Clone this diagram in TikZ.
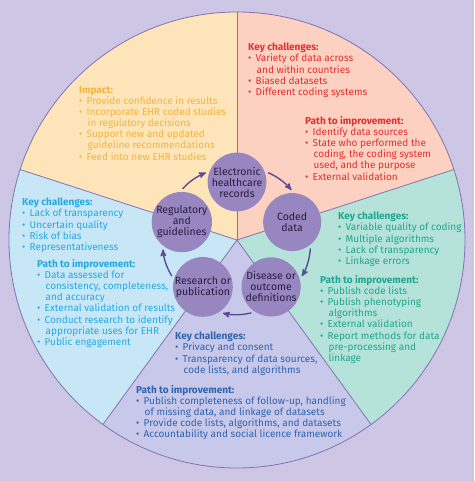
\documentclass[tikz,border=0pt]{standalone}
\usepackage{fontspec}
\setmainfont{Fira Sans}
\usepackage{tikz}
\usetikzlibrary{arrows}
\usepackage{xcolor}
\definecolor{wheel-bg}{HTML}{cdc6e4}
\definecolor{wheel-line}{HTML}{8373b2}
\definecolor{wheel-hub}{HTML}{9886c0}
\definecolor{wheel-hubtext}{HTML}{261e40}
\definecolor{wheel-arrow}{HTML}{5c4a92}
\definecolor{sector-yellow}{HTML}{fee5b9}
\definecolor{sector-peach}{HTML}{fcd1c1}
\definecolor{sector-teal}{HTML}{b5e3da}
\definecolor{sector-blue}{HTML}{c7e7f7}
\definecolor{sector-lavender}{HTML}{c8c9ea}
\definecolor{text-yellow}{HTML}{f3b33d}
\definecolor{text-red}{HTML}{e3302f}
\definecolor{text-teal}{HTML}{1fa68e}
\definecolor{text-cyan}{HTML}{27a8df}
\definecolor{text-blue}{HTML}{3063ad}

\newcommand{\bul}{\makebox[7.5pt][l]{\textbullet}}
\newcommand{\cnt}{\hspace*{8.5pt}}

\begin{document}
\begin{tikzpicture}[x=1pt, y=1pt, >=stealth']
  \tikzstyle{hub}=[circle, fill=wheel-hub, minimum size=58pt, inner sep=0pt, outer sep=1.5pt, align=center, text=wheel-hubtext, font=\fontsize{10.5}{11}\selectfont]
  \tikzstyle{info}=[anchor=north west, inner sep=0pt, align=left, font=\fontsize{10}{11.15}\selectfont]
  \tikzstyle{flow}=[->, line width=1.4pt, wheel-arrow, looseness=0.9, shorten <=2pt, shorten >=2pt]

  %% Background
  \useasboundingbox (-237,-241) rectangle (237,240);
  \fill[wheel-bg] (-237,-241) rectangle (237,240);

  %% Sectors
  \fill[sector-peach]    (0,0) -- (18:228)   arc[start angle=18,   end angle=90,   radius=228] -- cycle;
  \fill[sector-yellow]   (0,0) -- (90:228)   arc[start angle=90,   end angle=162,  radius=228] -- cycle;
  \fill[sector-blue]     (0,0) -- (162:228)  arc[start angle=162,  end angle=234,  radius=228] -- cycle;
  \fill[sector-lavender] (0,0) -- (234:228)  arc[start angle=234,  end angle=306,  radius=228] -- cycle;
  \fill[sector-teal]     (0,0) -- (-54:228)  arc[start angle=-54,  end angle=18,   radius=228] -- cycle;
  \draw[wheel-line, line width=0.8pt] (0,0) circle[radius=228];
  \foreach \a in {90,18,-54,-126,162}
    \draw[wheel-line, line width=0.8pt] (0,0) -- (\a:228);

  %% Cycle
  \node[hub] (ehr)        at (90:58)   {Electronic\\healthcare\\records};
  \node[hub] (coded)      at (18:58)   {Coded\\data};
  \node[hub] (disease)    at (-54:58)  {Disease or\\outcome\\definitions};
  \node[hub] (research)   at (-126:58) {Research or\\publication};
  \node[hub] (regulatory) at (162:58)  {Regulatory\\and\\guidelines};

  \path[flow]
    (ehr.19)        edge[out=-22, in=130] (coded.89)
    (coded.307)     edge[out=266, in=58]  (disease.17)
    (disease.235)   edge[out=194, in=346] (research.305)
    (research.163)  edge[out=122, in=274] (regulatory.233)
    (regulatory.91) edge[out=50,  in=202] (ehr.161);

  %% Electronic healthcare records
  \node[info, text=text-red] (ehrkc) at (11,197) {\textbf{Key challenges:}\\
    \bul Variety of data across\\ \cnt and within countries\\
    \bul Biased datasets\\
    \bul Different coding systems};
  \node[info, text=text-red] (ehrpi) at (68,124) {\textbf{Path to improvement:}\\
    \bul Identify data sources\\
    \bul State who performed the\\ \cnt coding, the coding system\\ \cnt used, and the purpose\\
    \bul External validation};

  %% Regulatory and guidelines
  \node[info, text=text-yellow] (impact) at (-158,154) {\textbf{Impact:}\\
    \bul Provide confidence in results\\
    \bul Incorporate EHR coded studies\\ \cnt in regulatory decisions\\
    \bul Support new and updated\\ \cnt guideline recommendations\\
    \bul Feed into new EHR studies};

  %% Research or publication (left)
  \node[info, text=text-cyan] (reskc) at (-215,42) {\textbf{Key challenges:}\\
    \bul Lack of transparency\\
    \bul Uncertain quality\\
    \bul Risk of bias\\
    \bul Representativeness};
  \node[info, text=text-cyan] (respi) at (-200,-19) {\textbf{Path to improvement:}\\
    \bul Data assessed for\\ \cnt consistency, completeness,\\ \cnt and accuracy\\
    \bul External validation of results\\
    \bul Conduct research to identify\\ \cnt appropriate uses for EHR\\
    \bul Public engagement};

  %% Coded data
  \node[info, text=text-teal] (codkc) at (101,28) {\textbf{Key challenges:}\\
    \bul Variable quality of coding\\
    \bul Multiple algorithms\\
    \bul Lack of transparency\\
    \bul Linkage errors};
  \node[info, text=text-teal] (codpi) at (83,-35) {\textbf{Path to improvement:}\\
    \bul Publish code lists\\
    \bul Publish phenotyping\\ \cnt algorithms\\
    \bul External validation\\
    \bul Report methods for data\\ \cnt pre-processing and\\ \cnt linkage};

  %% Disease or outcome definitions
  \node[info, text=text-blue] (diskc) at (-62,-92) {\textbf{Key challenges:}\\
    \bul Privacy and consent\\
    \bul Transparency of data sources,\\ \cnt code lists, and algorithms};
  \node[info, text=text-blue] (dispi) at (-101,-145) {\textbf{Path to improvement:}\\
    \bul Publish completeness of follow-up, handling\\ \cnt of missing data, and linkage of datasets\\
    \bul Provide code lists, algorithms, and datasets\\
    \bul Accountability and social licence framework};
\end{tikzpicture}
\end{document}
